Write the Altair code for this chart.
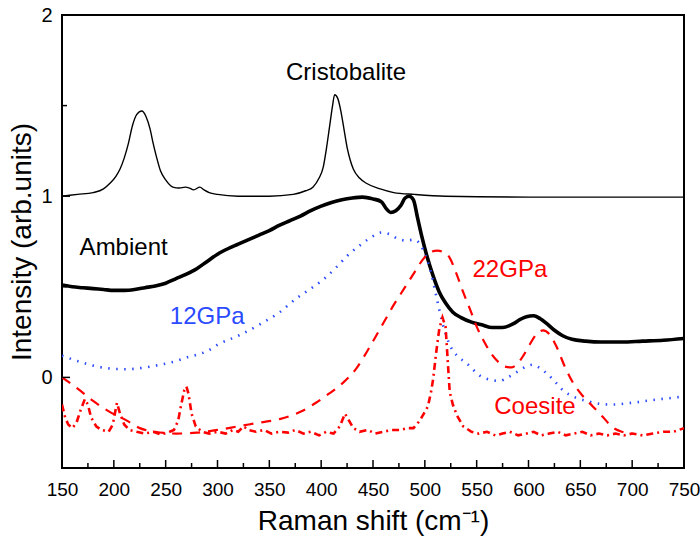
import altair as alt
import pandas as pd

# ---------------- data ----------------
cris_x = [150, 165, 180, 190, 196, 202, 206, 210, 214, 218, 222, 227, 231, 235, 238, 241, 245, 250, 257, 263,
          269, 273, 277, 283, 287, 292, 300, 320, 350, 373, 385, 392, 398, 402, 405, 408, 411, 413, 416, 419,
          422, 425, 428, 431, 437, 444, 457, 470, 490, 520, 600, 750]
cris_y = [1.00, 1.01, 1.02, 1.04, 1.07, 1.11, 1.15, 1.21, 1.29, 1.39, 1.45, 1.47, 1.44, 1.37, 1.29, 1.22, 1.14, 1.09, 1.05, 1.045,
          1.05, 1.045, 1.035, 1.05, 1.035, 1.02, 1.01, 1.0, 1.0, 1.01, 1.03, 1.05, 1.10, 1.16, 1.26, 1.38, 1.50, 1.56, 1.54, 1.47,
          1.37, 1.27, 1.20, 1.15, 1.10, 1.07, 1.04, 1.02, 1.01, 1.0, 0.995, 0.995]

amb_x = [150, 160, 170, 180, 190, 200, 210, 220, 230, 240, 250, 260, 270, 280, 290, 300, 310, 320, 330, 340,
         350, 360, 370, 380, 390, 400, 410, 420, 430, 440, 450, 458, 463, 467, 472, 477, 481, 485, 489, 493,
         497, 502, 508, 514, 520, 527, 535, 545, 555, 565, 575, 585, 592, 598, 605, 611, 618, 625, 633, 642,
         655, 670, 690, 710, 730, 750]
amb_y = [0.51, 0.50, 0.495, 0.49, 0.485, 0.48, 0.48, 0.485, 0.495, 0.505, 0.52, 0.545, 0.57, 0.60, 0.64, 0.68, 0.71, 0.735, 0.76, 0.785,
         0.81, 0.84, 0.865, 0.89, 0.92, 0.945, 0.965, 0.98, 0.99, 0.995, 0.985, 0.97, 0.93, 0.91, 0.92, 0.95, 0.99, 1.0, 0.98, 0.88,
         0.78, 0.67, 0.56, 0.47, 0.41, 0.36, 0.33, 0.305, 0.29, 0.275, 0.275, 0.295, 0.32, 0.335, 0.34, 0.325, 0.295, 0.26, 0.23, 0.21,
         0.20, 0.195, 0.195, 0.20, 0.205, 0.215]

p12_x = [150, 165, 180, 195, 213, 230, 245, 260, 270, 280, 290, 300, 320, 340, 360, 377, 390, 402, 415, 425,
         440, 450, 458, 466, 474, 482, 489, 495, 500, 505, 511, 517, 524, 531, 540, 553, 565, 572, 580, 589,
         598, 604, 610, 618, 625, 633, 645, 656, 668, 680, 700, 720, 743, 750]
p12_y = [0.12, 0.09, 0.065, 0.05, 0.045, 0.055, 0.07, 0.09, 0.11, 0.125, 0.145, 0.18, 0.23, 0.29, 0.36, 0.44, 0.49, 0.54, 0.61, 0.67,
         0.74, 0.78, 0.80, 0.79, 0.765, 0.755, 0.76, 0.74, 0.68, 0.60, 0.45, 0.30, 0.18, 0.12, 0.08, 0.01, -0.015, -0.02, 0.0, 0.03,
         0.06, 0.07, 0.055, 0.02, -0.02, -0.07, -0.11, -0.13, -0.145, -0.15, -0.14, -0.125, -0.11, -0.105]

p22_x = [150, 160, 167, 180, 196, 213, 225, 240, 260, 280, 300, 320, 340, 360, 380, 395, 405, 421, 434, 447,
         460, 470, 480, 490, 498, 505, 512, 518, 524, 530, 537, 544, 550, 557, 563, 570, 577, 583, 590, 595,
         601, 608, 614, 620, 627, 635, 643, 652, 662, 672, 680, 690, 700]
p22_y = [0.0, -0.04, -0.07, -0.13, -0.19, -0.24, -0.28, -0.30, -0.31, -0.305, -0.29, -0.27, -0.25, -0.23, -0.19, -0.14, -0.10, -0.03, 0.05, 0.17,
         0.30, 0.40, 0.49, 0.58, 0.65, 0.69, 0.70, 0.69, 0.66, 0.58, 0.47, 0.37, 0.28, 0.20, 0.14, 0.09, 0.06, 0.055, 0.08, 0.12,
         0.18, 0.24, 0.26, 0.24, 0.17, 0.06, -0.03, -0.10, -0.16, -0.22, -0.27, -0.30, -0.31]

coe_x = [150, 153, 156, 160, 164, 168, 172, 175, 178, 183, 188, 195, 199, 203, 206, 210, 215, 222, 230, 238,
         245, 252, 258, 262, 265, 268, 270, 272, 275, 279, 285, 292, 300, 308, 315, 320, 325, 330, 337, 345,
         352, 360, 368, 375, 383, 390, 398, 405, 412, 418, 423, 427, 431, 437, 445, 452, 460, 468, 476, 483,
         489, 495, 500, 503, 506, 508, 511, 514, 517, 520, 522, 524, 527, 531, 537, 545, 552, 560, 568, 575,
         582, 590, 598, 605, 612, 620, 628, 636, 644, 652, 660, 668, 676, 684, 692, 700, 710, 720, 730, 740, 750]
coe_y = [-0.15, -0.22, -0.26, -0.28, -0.25, -0.18, -0.12, -0.15, -0.22, -0.27, -0.29, -0.30, -0.26, -0.14, -0.20, -0.26, -0.29, -0.30, -0.31, -0.30,
         -0.315, -0.305, -0.29, -0.24, -0.15, -0.07, -0.05, -0.09, -0.20, -0.27, -0.30, -0.31, -0.30, -0.31, -0.29, -0.30, -0.27, -0.29, -0.30, -0.29,
         -0.31, -0.30, -0.305, -0.29, -0.31, -0.30, -0.32, -0.30, -0.31, -0.27, -0.20, -0.24, -0.28, -0.30, -0.29, -0.31, -0.30, -0.29, -0.29, -0.28,
         -0.28, -0.24, -0.19, -0.16, -0.08, -0.01, 0.14, 0.27, 0.33, 0.28, 0.10, -0.08, -0.15, -0.21, -0.27, -0.30, -0.31, -0.30, -0.32, -0.31,
         -0.30, -0.32, -0.31, -0.30, -0.32, -0.31, -0.30, -0.32, -0.31, -0.30, -0.32, -0.31, -0.32, -0.31, -0.32, -0.31, -0.32, -0.31, -0.30, -0.30, -0.28]

label_text = ["Cristobalite", "Ambient", "12GPa", "22GPa", "Coesite"]
label_x = [424, 167, 254, 546, 567]
label_y = [1.68, 0.716, 0.335, 0.595, -0.165]
label_color = ["#000000", "#000000", "#2a4bff", "#ff0000", "#ff0000"]

x_major = [150, 200, 250, 300, 350, 400, 450, 500, 550, 600, 650, 700, 750]
x_minor = [175, 225, 275, 325, 375, 425, 475, 525, 575, 625, 675, 725]
y_major = [0, 1, 2]
y_minor = [-0.5, 0.5, 1.5]

# ---------------- chart ----------------
FONT = "Liberation Sans"
W, H = 622, 453
xs = alt.Scale(domain=[150, 750], nice=False, zero=False)
ys = alt.Scale(domain=[-0.5, 2], nice=False, zero=False)

X = alt.X("x:Q", scale=xs, axis=alt.Axis(values=x_major, title="Raman shift (cm⁻¹)", tickSize=0, domain=False,
                                          grid=False, labelFontSize=19, labelPadding=12, titleFontSize=28,
                                          titlePadding=8, labelFont=FONT, titleFont=FONT, titleFontWeight="normal",
                                          labelColor="black", titleColor="black", labelFlush=False, format="d"))
Y = alt.Y("y:Q", scale=ys, axis=alt.Axis(values=y_major, title="Intensity (arb.units)", tickSize=0, domain=False,
                                          grid=False, labelFontSize=20, labelPadding=10, titleFontSize=28,
                                          titlePadding=4, labelFont=FONT, titleFont=FONT, titleFontWeight="normal",
                                          labelColor="black", titleColor="black", labelFlush=False, format="d"))


def line(xv, yv, color, width, dash=None, interp="monotone"):
    df = pd.DataFrame({"x": xv, "y": yv})
    kw = dict(color=color, strokeWidth=width, interpolate=interp, clip=True)
    if dash:
        kw["strokeDash"] = dash
    return alt.Chart(df).mark_line(**kw).encode(x=X, y=Y)


cris = line(cris_x, cris_y, "black", 1.4)
amb = line(amb_x, amb_y, "black", 3.6)
p12 = line(p12_x, p12_y, "#2a4bff", 2.6, [1.5, 6.5])
p22 = line(p22_x, p22_y, "#ff0000", 2.2, [10, 8])
coe = line(coe_x, coe_y, "#ff0000", 2.6, [7, 4, 2, 4], interp="linear")

lab_df = pd.DataFrame({"t": label_text, "x": label_x, "y": label_y, "c": label_color})
labels = alt.Chart(lab_df).mark_text(align="left", baseline="middle", fontSize=24, font=FONT).encode(
    x=alt.X("x:Q", scale=xs), y=alt.Y("y:Q", scale=ys), text="t:N",
    color=alt.Color("c:N", scale=None))
cris_lab = labels.transform_filter(alt.datum.t == "Cristobalite").mark_text(
    align="center", baseline="middle", fontSize=24, font=FONT)
other_lab = labels.transform_filter(alt.datum.t != "Cristobalite")

xmaj = alt.Chart(pd.DataFrame({"v": x_major})).mark_rule(color="black", strokeWidth=1.5).encode(
    x=alt.X("v:Q", scale=xs), y=alt.value(H), y2=alt.value(H - 8))
xmin = alt.Chart(pd.DataFrame({"v": x_minor})).mark_rule(color="black", strokeWidth=1.5).encode(
    x=alt.X("v:Q", scale=xs), y=alt.value(H), y2=alt.value(H - 5))
ymaj = alt.Chart(pd.DataFrame({"v": y_major})).mark_rule(color="black", strokeWidth=1.5).encode(
    y=alt.Y("v:Q", scale=ys), x=alt.value(0), x2=alt.value(8))
ymin = alt.Chart(pd.DataFrame({"v": y_minor})).mark_rule(color="black", strokeWidth=1.5).encode(
    y=alt.Y("v:Q", scale=ys), x=alt.value(0), x2=alt.value(5))

chart = alt.layer(cris, amb, p12, p22, coe, cris_lab, other_lab, xmaj, xmin, ymaj, ymin).properties(
    width=W, height=H,
    padding={"left": 62, "top": 15, "right": 16, "bottom": 75},
    autosize="none",
    background="white",
).configure_view(stroke="black", strokeWidth=2)

chart.save("out.html", embed_options={"renderer": "svg", "actions": False})
